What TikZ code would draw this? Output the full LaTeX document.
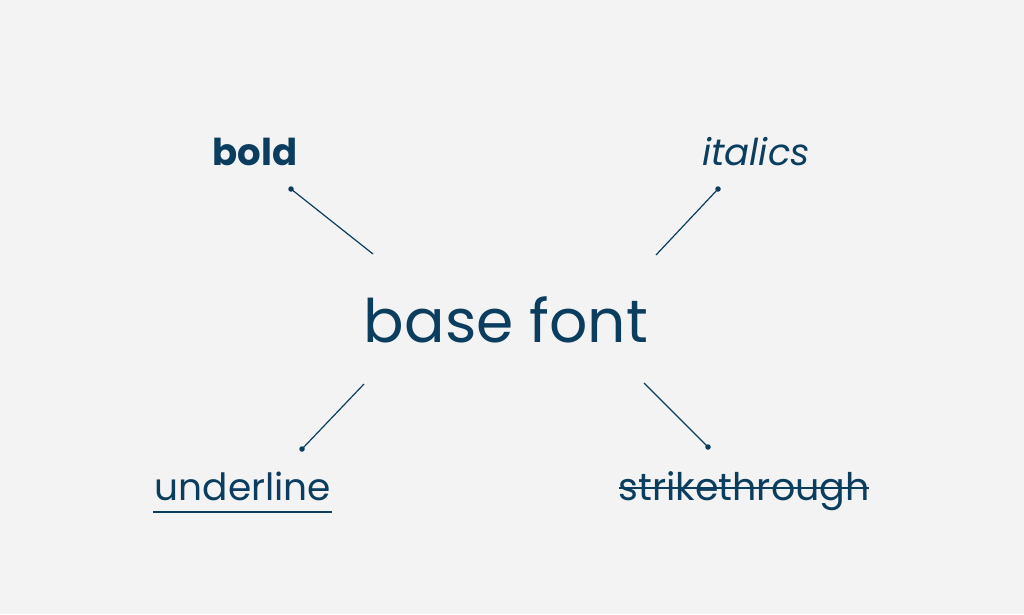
\documentclass[tikz,border=0pt]{standalone}
\usepackage{fontspec}
\setmainfont{Poppins}
\definecolor{ink}{HTML}{0B3D5F}
\definecolor{bg}{HTML}{F3F3F3}
\begin{document}
\begin{tikzpicture}[x=1pt,y=-1pt,
  lbl/.style={text=ink,inner sep=0pt,anchor=base},
  conn/.style={draw=ink,line width=1.2pt},
  dotend/.style={fill=ink,circle,inner sep=0pt,minimum size=5.5pt}]
\fill[bg] (0,0) rectangle (1024,614);
\useasboundingbox (0,0) rectangle (1024,614);
\node[lbl,font=\fontsize{60}{60}\selectfont] (base) at (506,342) {base font};
\node[lbl,font=\fontsize{37}{37}\selectfont\bfseries] (bold) at (255,165) {bold};
\node[lbl,font=\fontsize{37}{37}\selectfont\itshape] (ital) at (756,165) {italics};
\node[lbl,font=\fontsize{37.5}{37.5}\selectfont] (under) at (243,500) {underline};
\node[lbl,font=\fontsize{38}{38}\selectfont] (strike) at (744,500) {strikethrough};
% connector ends
\node[dotend] (d1) at (291,189) {};
\coordinate (e1) at (373,254);
\node[dotend] (d2) at (718,189) {};
\coordinate (e2) at (656,255);
\node[dotend] (d3) at (302,449) {};
\coordinate (e3) at (364,384);
\node[dotend] (d4) at (708,447) {};
\coordinate (e4) at (644,383);
\draw[conn] (d1.center) -- (e1);
\draw[conn] (d2.center) -- (e2);
\draw[conn] (d3.center) -- (e3);
\draw[conn] (d4.center) -- (e4);
% underline and strike
\coordinate (ul1) at (153,512);
\coordinate (ul2) at (332,512);
\draw[draw=ink,line width=2.6pt] (ul1) -- (ul2);
\coordinate (st1) at (619,488);
\coordinate (st2) at (869,488);
\draw[draw=ink,line width=2.6pt] (st1) -- (st2);
\end{tikzpicture}
\end{document}
